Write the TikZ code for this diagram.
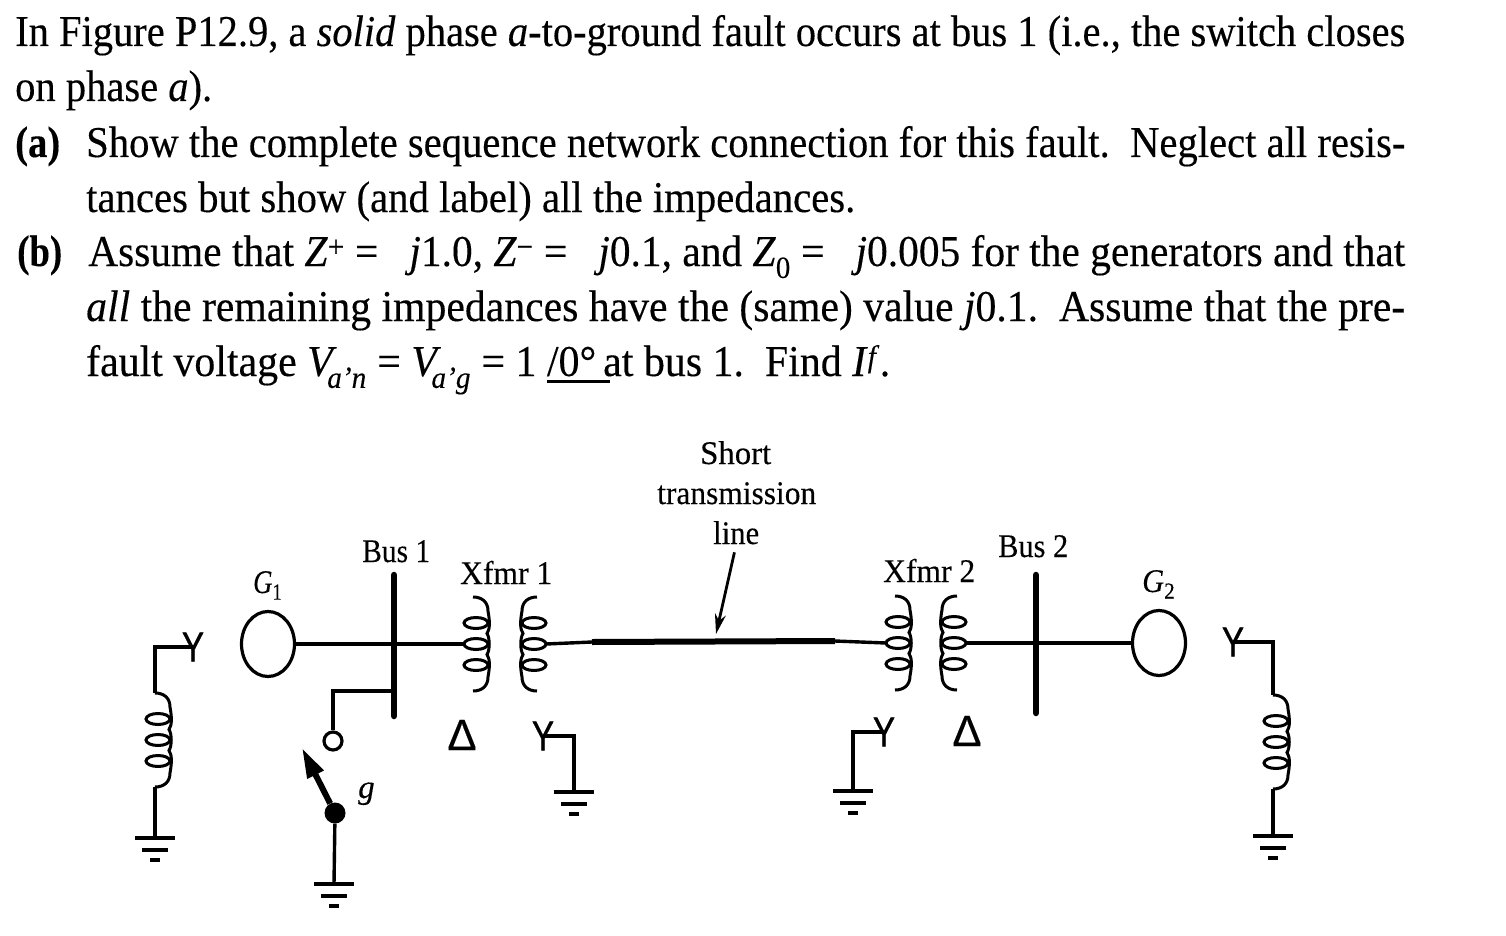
\documentclass[tikz,border=0pt]{standalone}
\usepackage{fontspec}
\usepackage{graphicx}
\setmainfont[FakeBold=0.25,ItalicFeatures={FakeBold=0.25},BoldFeatures={FakeBold=0.25}]{Liberation Serif}
\newfontfamily\symfont[FakeBold=0.3]{Liberation Sans}
\newfontfamily\wyefont[FakeBold=1.2]{Liberation Sans}
\usetikzlibrary{arrows.meta,shapes.geometric}
\newcommand{\fitw}[2]{\resizebox{#1pt}{\height}{#2}}
\newcommand{\angbar}{\rlap{\raisebox{-7pt}{\rule{66pt}{3pt}}}}
\tikzset{
    txt/.style={anchor=base west,inner sep=0pt,font=\fontsize{44}{50}\selectfont},
    lbl/.style={anchor=base west,inner sep=0pt,font=\fontsize{33}{38}\selectfont},
    wye/.style={inner sep=0pt,font=\wyefont\fontsize{42}{42}\selectfont},
    dlt/.style={inner sep=0pt,font=\symfont\fontsize{44}{44}\selectfont},
    wire/.style={line width=3.4pt},
    bus/.style={line width=6.5pt,line cap=round},
    gen/.style={draw,ellipse,line width=3.2pt,minimum width=53pt,minimum height=65pt,inner sep=0pt},
    pics/coil/.style={code={
        \draw[line width=3pt] (-15,-47) .. controls (-6,-47) and (0,-42) .. (0,-33)
            .. controls (2,-22) and (2,-15) .. (-1,-10.5) .. controls (2,-6) and (2,6) .. (-1,10.5)
            .. controls (2,15) and (2,22) .. (0,33) .. controls (0,42) and (-6,47) .. (-15,47);
        \foreach \k in {-21,0,21}
            \draw[line width=3pt] (-12,\k) circle[x radius=12,y radius=5.5];
        \coordinate (-in) at (-24,0);
        \coordinate (-top) at (-15,-47);
        \coordinate (-bot) at (-15,47);
    }},
    pics/gnd/.style={code={
        \draw[line width=3.4pt] (-20,0) -- (20,0);
        \draw[line width=4pt] (-13,12) -- (13,12);
        \draw[line width=4pt] (-5,22) -- (5,22);
        \coordinate (-top) at (0,0);
    }},
}
\begin{document}
\begin{tikzpicture}[x=1pt,y=-1pt]
    \useasboundingbox[fill=white] (0,0) rectangle (1506,936);
    % problem text
    \node[txt] (l1) at (15,46) {\fitw{1390}{In Figure P12.9, a \textit{solid} phase \textit{a}-to-ground fault occurs at bus 1 (i.e., the switch closes}};
    \node[txt] (l2) at (15,101) {\fitw{197}{on phase \textit{a}).}};
    \node[txt] (a0) at (15,157) {\fitw{45}{\textbf{(a)}}};
    \node[txt] (a1) at (86,157) {\fitw{1319}{Show the complete sequence network connection for this fault.\ \ Neglect all resis-}};
    \node[txt] (a2) at (86,212) {\fitw{769}{tances but show (and label) all the impedances.}};
    \node[txt] (b0) at (17,266) {\fitw{45}{\textbf{(b)}}};
    \node[txt] (b1) at (88,266) {\fitw{1317}{Assume that \textit{Z}\textsuperscript{+} =\ \ \ \textit{j}1.0, \textit{Z}\textsuperscript{−} =\ \ \ \textit{j}0.1, and \textit{Z}\textsubscript{0} =\ \ \ \textit{j}0.005 for the generators and that}};
    \node[txt] (b2) at (86,321) {\fitw{1319}{\textit{all} the remaining impedances have the (same) value \textit{j}0.1.\ \ Assume that the pre-}};
    \node[txt] (b3) at (86,376) {\fitw{804}{fault voltage \textit{V}\kern-10pt\textsubscript{\textit{a'n}} = \textit{V}\kern-10pt\textsubscript{\textit{a'g}} = 1 \angbar/0°\,at bus 1.\ \ Find \textit{I}\textsuperscript{\textit{f}}.}};
    % labels
    \node[lbl] (shortL) at (700,464) {\fitw{71}{Short}};
    \node[lbl] (transL) at (657,504) {\fitw{159}{transmission}};
    \node[lbl] (lineL) at (713,544) {\fitw{46}{line}};
    \node[lbl] (bus1L) at (362,562) {\fitw{68}{Bus 1}};
    \node[lbl] (bus2L) at (998,557) {\fitw{70}{Bus 2}};
    \node[lbl] (xf1L) at (460,584) {\fitw{92}{Xfmr 1}};
    \node[lbl] (xf2L) at (883,582) {\fitw{92}{Xfmr 2}};
    \node[lbl] (g1L) at (253,593) {\fitw{29}{\textit{G}\textsubscript{1}}};
    \node[lbl] (g2L) at (1142,592) {\fitw{33}{\textit{G}\textsubscript{2}}};
    \node[lbl] (gL) at (358,798) {\textit{g}};
    % generators and buses
    \node[gen] (G1) at (268,644) {};
    \node[gen] (G2) at (1159,643) {};
    \coordinate (b1t) at (394,575);
    \coordinate (b1b) at (394,716);
    \coordinate (b1f) at (394,691);
    \coordinate (b2t) at (1036,575);
    \coordinate (b2b) at (1036,713);
    \draw[bus] (b1t) -- (b1b);
    \draw[bus] (b2t) -- (b2b);
    % transformers
    \pic (t1p) at (488,644) {coil};
    \pic[xscale=-1] (t1s) at (522,644) {coil};
    \pic (t2p) at (910,643) {coil};
    \pic[xscale=-1] (t2s) at (942,643) {coil};
    \coordinate (lineA) at (592,642);
    \coordinate (lineB) at (835,641);
    \coordinate (arrow) at (716,634);
    \draw[wire] (G1) -- (t1p-in);
    \draw[wire] (t1s-in) -- (lineA);
    \draw[line width=6pt] (lineA) -- (lineB);
    \draw[wire] (lineB) -- (t2p-in);
    \draw[wire] (t2s-in) -- (G2);
    \draw[line width=2.8pt,-{Stealth[length=20pt,width=11pt]},shorten <=8pt] (lineL.south) -- (arrow);
    % neutral of generators
    \node[wye] (Yg1) at (193,647) {\fitw{22}{Y}};
    \node[wye] (Yg2) at (1233,642) {\fitw{22}{Y}};
    \pic (cg1) at (170,740) {coil};
    \pic (cg2) at (1288,742) {coil};
    \pic (eg1) at (155,838) {gnd};
    \pic (eg2) at (1273,836) {gnd};
    \draw[wire] (Yg1.center) -| (cg1-top);
    \draw[wire] (cg1-bot) -- (eg1-top);
    \draw[wire] (Yg2.center) -| (cg2-top);
    \draw[wire] (cg2-bot) -- (eg2-top);
    % transformer windings
    \node[dlt] (D1) at (462,735) {Δ};
    \node[dlt] (D2) at (967,731) {Δ};
    \node[wye] (Yt1) at (543,736) {\fitw{22}{Y}};
    \node[wye] (Yt2) at (884,732) {\fitw{22}{Y}};
    \pic (et1) at (574,792) {gnd};
    \pic (et2) at (853,791) {gnd};
    \draw[wire] (Yt1.center) -| (et1-top);
    \draw[wire] (Yt2.center) -| (et2-top);
    % fault switch
    \node[draw,circle,line width=3.2pt,minimum size=18pt,inner sep=0pt] (tm) at (333,741) {};
    \node[fill,circle,minimum size=21pt,inner sep=0pt] (ball) at (335,813) {};
    \coordinate (tip) at (302,748);
    \pic (esw) at (334,884) {gnd};
    \draw[wire] (b1f) -| (tm);
    \draw[line width=6pt,-{Triangle[length=30pt,width=17pt]}] (ball) -- (tip);
    \draw[wire] (ball) -- (esw-top);
\end{tikzpicture}
\end{document}
